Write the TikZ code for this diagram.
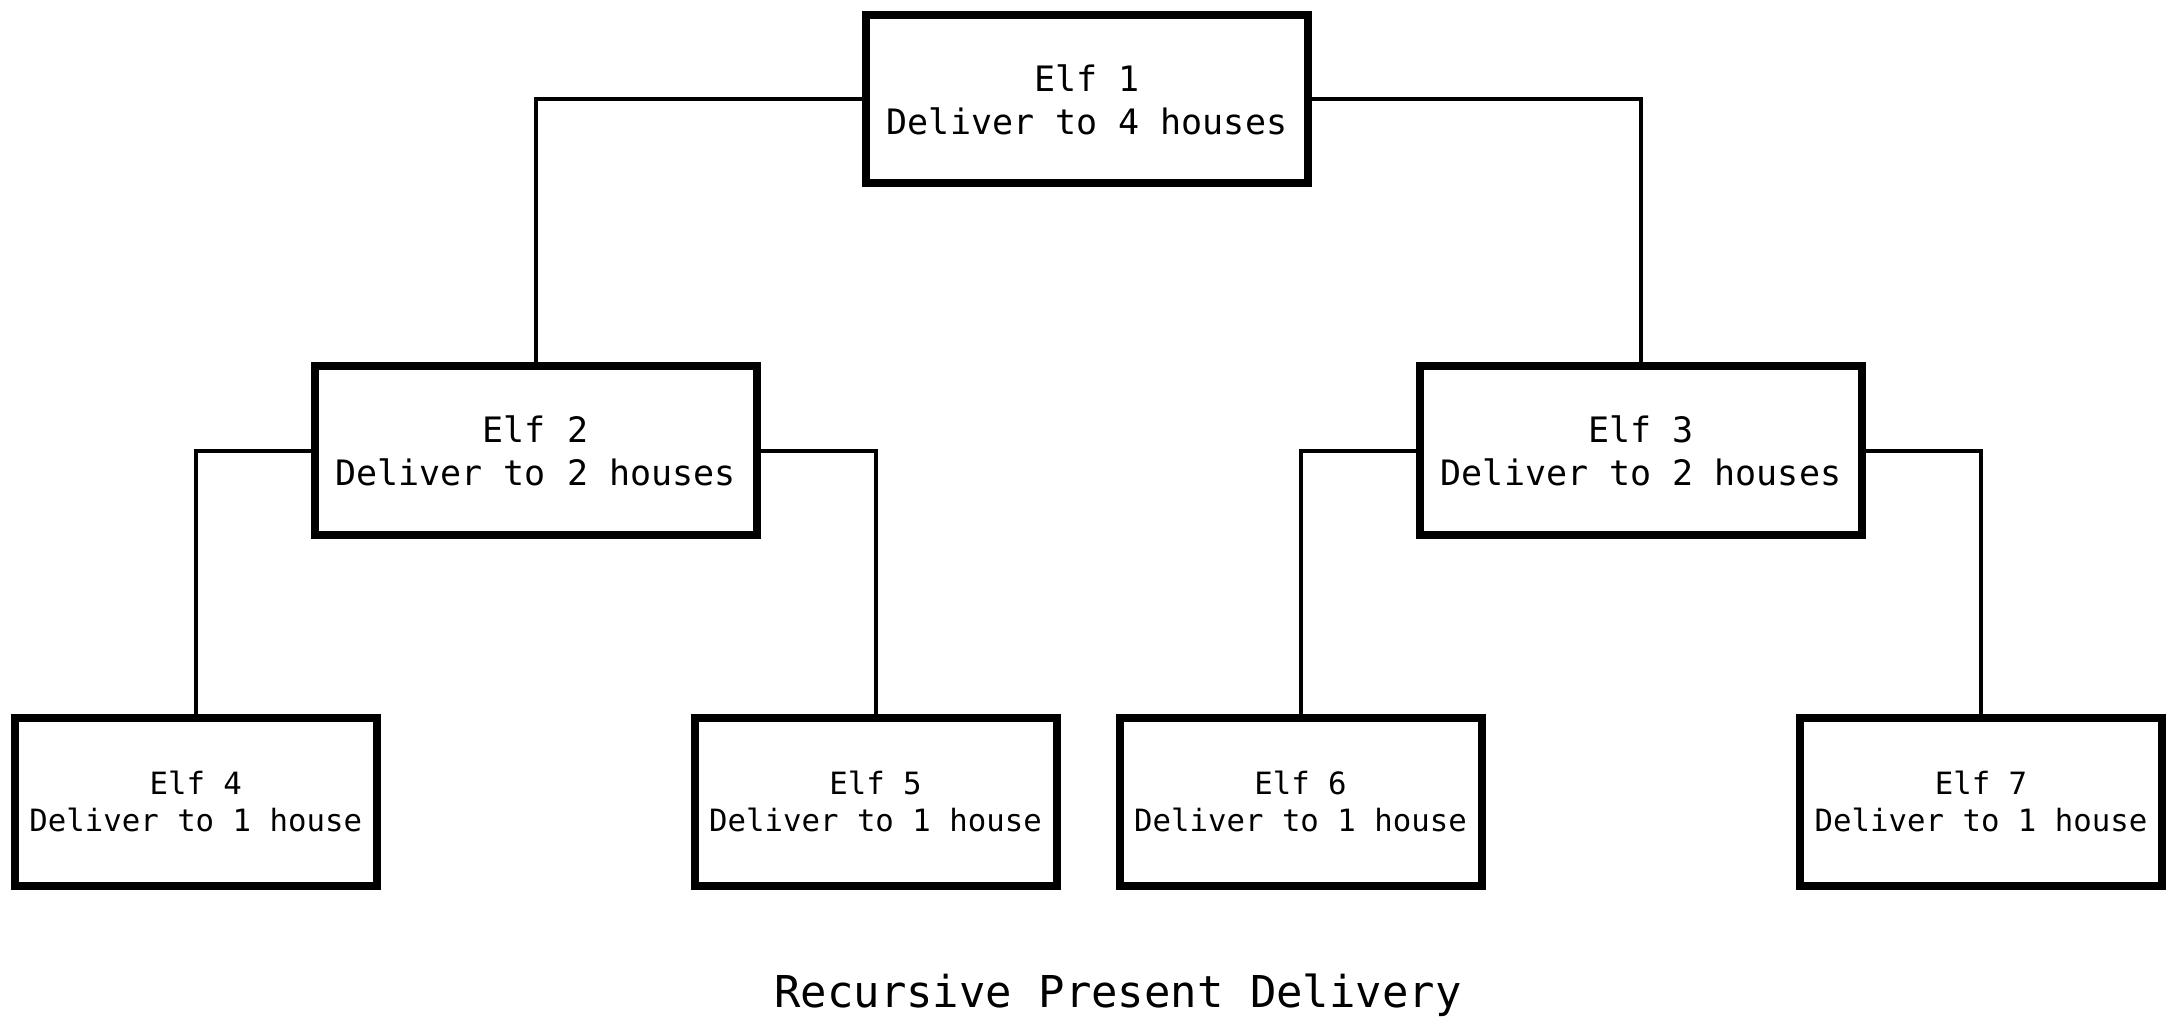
\documentclass[tikz,border=0pt]{standalone}
\usepackage{fontspec}
\newfontfamily\elffont{DejaVu Sans Mono}
\begin{document}
\begin{tikzpicture}[x=0.5pt,y=-0.5pt,
  elfbox/.style={draw, line width=4pt, align=center, inner sep=0pt,
    font=\elffont\fontsize{17.5}{21.5}\selectfont,
    minimum width=221pt, minimum height=84pt},
  leafbox/.style={elfbox, font=\elffont\fontsize{15.35}{18.5}\selectfont,
    minimum width=181pt, minimum height=84pt},
  link/.style={line width=2pt}]
\useasboundingbox (0,0) rectangle (2180,1032);
\node[elfbox] (e1) at (1087,99.5) {Elf 1\\Deliver to 4 houses};
\node[elfbox] (e2) at (535.5,450.5) {Elf 2\\Deliver to 2 houses};
\node[elfbox] (e3) at (1641,450.5) {Elf 3\\Deliver to 2 houses};
\node[leafbox] (e4) at (195.75,801.75) {Elf 4\\Deliver to 1 house};
\node[leafbox] (e5) at (875.5,801.75) {Elf 5\\Deliver to 1 house};
\node[leafbox] (e6) at (1300.5,801.75) {Elf 6\\Deliver to 1 house};
\node[leafbox] (e7) at (1981,801.75) {Elf 7\\Deliver to 1 house};
\draw[link] (e1.west) -| (e2.north);
\draw[link] (e1.east) -| (e3.north);
\draw[link] (e2.west) -| (e4.north);
\draw[link] (e2.east) -| (e5.north);
\draw[link] (e3.west) -| (e6.north);
\draw[link] (e3.east) -| (e7.north);
\node[font=\elffont\fontsize{21.95}{26}\selectfont, anchor=base, inner sep=0pt] (title) at (1118,1007) {Recursive Present Delivery};
\end{tikzpicture}
\end{document}
